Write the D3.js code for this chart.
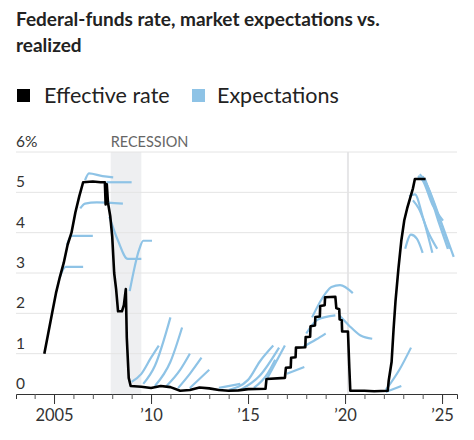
<!DOCTYPE html><html><head><meta charset="utf-8">
<script src="https://cdn.jsdelivr.net/npm/d3@7"></script>
<style>body{margin:0;background:#fff;font-family:Lato,"Open Sans",sans-serif}</style></head><body>
<svg id="c" width="474" height="440"></svg>
<script>
const yTicks=[0,1,2,3,4,5,6];
const xTicks=[2005,2010,2015,2020,2025];
const xTickLabels=["2005","’10","’15","’20","’25"];
const recession=[2007.92,2009.5];
const covid=2020.15;
const effective=[[2004.5,1.0],[2004.7,1.5],[2004.9,2.0],[2005.1,2.5],[2005.3,2.9],[2005.5,3.25],[2005.7,3.7],[2005.9,4.0],[2006.1,4.5],[2006.3,4.9],[2006.5,5.25],[2007.0,5.27],[2007.4,5.25],[2007.62,5.25],[2007.66,4.7],[2007.72,5.2],[2007.78,4.75],[2007.9,4.4],[2008.0,3.9],[2008.1,3.0],[2008.2,2.6],[2008.3,2.05],[2008.5,2.05],[2008.6,2.2],[2008.7,2.6],[2008.75,1.4],[2008.85,0.4],[2008.95,0.2],[2009.5,0.18],[2010.0,0.15],[2010.5,0.2],[2011.0,0.17],[2011.5,0.08],[2012.0,0.1],[2012.5,0.16],[2013.0,0.14],[2013.5,0.1],[2014.0,0.08],[2014.5,0.09],[2015.0,0.12],[2015.9,0.13],[2015.95,0.37],[2016.9,0.4],[2016.95,0.65],[2017.2,0.66],[2017.22,0.9],[2017.45,0.91],[2017.47,1.15],[2017.95,1.16],[2017.97,1.41],[2018.2,1.42],[2018.22,1.68],[2018.45,1.7],[2018.47,1.91],[2018.7,1.92],[2018.72,2.18],[2018.95,2.2],[2018.97,2.4],[2019.5,2.41],[2019.55,2.13],[2019.7,2.1],[2019.72,1.85],[2019.83,1.83],[2019.85,1.55],[2020.15,1.55],[2020.22,0.65],[2020.27,0.08],[2021.0,0.08],[2021.5,0.07],[2022.2,0.08],[2022.25,0.33],[2022.4,0.8],[2022.5,1.6],[2022.6,2.3],[2022.75,3.1],[2022.9,3.8],[2023.05,4.3],[2023.2,4.6],[2023.35,4.85],[2023.5,5.1],[2023.6,5.33],[2024.15,5.33]];
const expectations=[
[[2005.3,2.9],[2005.6,3.15],[2006.5,3.15]],
[[2005.67,3.7],[2005.9,3.92],[2007.0,3.92]],
[[2006.35,4.6],[2006.6,4.72],[2007.2,4.75],[2008.55,4.72]],
[[2006.6,5.3],[2006.8,5.47],[2007.5,5.4],[2008.05,5.37]],
[[2007.7,5.25],[2009.0,5.25]],
[[2007.85,4.4],[2008.3,3.8],[2008.8,3.35],[2009.5,3.35]],
[[2008.9,2.55],[2009.4,3.6],[2009.6,3.8],[2010.05,3.8]],
[[2009.0,0.3],[2009.5,0.5],[2010.0,0.9],[2010.4,1.2]],
[[2009.6,0.25],[2010.2,0.7],[2011.0,1.9]],
[[2010.2,0.2],[2011.0,0.8],[2011.6,1.65]],
[[2010.8,0.2],[2011.5,0.6],[2012.0,1.0]],
[[2011.4,0.15],[2012.0,0.5],[2012.6,0.9]],
[[2012.0,0.15],[2013.0,0.6]],
[[2013.5,0.15],[2014.6,0.25]],
[[2014.0,0.1],[2015.0,0.35],[2015.6,0.8],[2016.3,1.2]],
[[2014.6,0.1],[2015.6,0.45],[2016.6,1.15]],
[[2015.3,0.15],[2016.0,0.5],[2016.4,0.85]],
[[2016.0,0.4],[2016.9,1.2]],
[[2017.0,0.5],[2017.9,0.67]],
[[2017.85,1.17],[2018.5,1.35],[2019.0,1.5]],
[[2018.0,1.5],[2018.6,1.85],[2019.5,1.95]],
[[2018.3,1.9],[2019.0,2.5],[2019.3,2.65],[2019.74,2.7],[2020.4,2.5]],
[[2019.7,1.95],[2020.2,1.7],[2020.8,1.45],[2021.4,1.37]],
[[2022.1,0.1],[2022.8,0.6],[2023.4,1.15]],
[[2022.1,0.05],[2022.9,0.2]],
[[2023.1,3.6],[2023.4,3.95],[2023.7,3.85],[2024.0,3.5]],
[[2023.3,4.9],[2023.6,4.95],[2024.0,4.4],[2024.5,3.5]],
[[2023.5,4.8],[2023.8,4.6],[2024.3,4.0],[2024.75,3.6]],
[[2023.75,5.4],[2024.0,5.3],[2024.5,4.7],[2025.05,4.3]],
[[2023.85,5.45],[2024.1,5.3],[2024.8,4.3],[2025.3,3.6]],
[[2024.0,5.4],[2024.3,5.1],[2025.0,4.2],[2025.6,3.4]],
[[2024.1,5.35],[2024.6,4.7],[2025.4,3.6]]
];
const svg=d3.select("#c");
const x=d3.scaleLinear().domain([2003.04,2025.77]).range([16,457]);
const y=d3.scaleLinear().domain([0,6]).range([394,152]);
svg.append("text").attr("x",16).attr("y",26).attr("font-size",19).attr("font-weight",700).attr("fill","#222").text("Federal-funds rate, market expectations vs.");
svg.append("text").attr("x",16).attr("y",52).attr("font-size",19).attr("font-weight",700).attr("fill","#222").text("realized");
svg.append("rect").attr("x",17).attr("y",89).attr("width",13).attr("height",13).attr("fill","#000");
svg.append("text").attr("x",44).attr("y",103).attr("font-size",21.5).attr("fill","#222").text("Effective rate");
svg.append("rect").attr("x",192).attr("y",89).attr("width",13).attr("height",13).attr("fill","#8ec3e6");
svg.append("text").attr("x",217).attr("y",103).attr("font-size",21.5).attr("fill","#222").text("Expectations");
svg.append("rect").attr("x",x(recession[0])).attr("y",y(6)).attr("width",x(recession[1])-x(recession[0])).attr("height",y(0)-y(6)).attr("fill","#eeeff1");
svg.append("line").attr("x1",x(covid)).attr("x2",x(covid)).attr("y1",y(6)).attr("y2",y(0)).attr("stroke","#e6e6e8").attr("stroke-width",2);
svg.append("text").attr("x",x(recession[0])).attr("y",147).attr("font-size",14.5).attr("fill","#666").text("RECESSION");
yTicks.forEach(t=>{
 if(t>0) svg.append("line").attr("x1",16).attr("x2",457).attr("y1",y(t)).attr("y2",y(t)).attr("stroke","#e4e4e4");
 svg.append("text").attr("x",16).attr("y",y(t)-5).attr("font-size",15.5).attr("fill","#333").text(t===6?"6%":t);
});
svg.append("g").attr("transform",`translate(0,${y(0)})`).call(d3.axisBottom(x).tickValues(d3.range(2004,2026)).tickSize(5).tickFormat(""))
 .call(g=>{g.select(".domain").attr("stroke","#333");g.selectAll("line").attr("stroke","#555");});
svg.append("g").attr("transform",`translate(0,${y(0)})`).call(d3.axisBottom(x).tickValues(xTicks).tickSize(10).tickPadding(5).tickFormat((d,i)=>xTickLabels[i]))
 .call(g=>{g.select(".domain").remove();g.selectAll("line").attr("stroke","#333");g.selectAll("text").attr("font-size",16.5).attr("fill","#333").attr("font-family","Lato");});
const line=d3.line().x(d=>x(d[0])).y(d=>y(d[1]));
const curved=d3.line().x(d=>x(d[0])).y(d=>y(d[1])).curve(d3.curveMonotoneX);
expectations.forEach(s=>svg.append("path").attr("d",curved(s)).attr("fill","none").attr("stroke","#8ec3e6").attr("stroke-width",2.2));
svg.append("path").attr("d",line(effective)).attr("fill","none").attr("stroke","#000").attr("stroke-width",2.6).attr("stroke-linejoin","round");
</script></body></html>
